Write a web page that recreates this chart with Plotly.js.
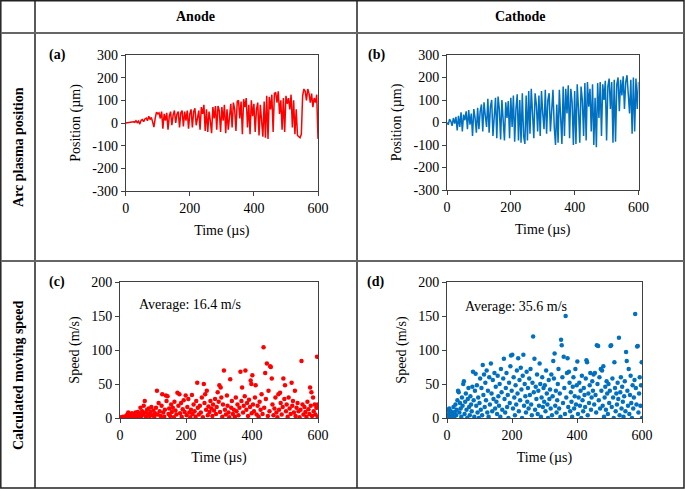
<!DOCTYPE html>
<html>
<head>
<meta charset="utf-8">
<script src="https://cdn.plot.ly/plotly-3.0.1.min.js"></script>
<style>
  html, body { margin: 0; padding: 0; background: #fff; }
  #plot1 { width: 685px; height: 489px; }
</style>
</head>
<body>
<div id="plot1"></div>
<script>
/////////////////////////////////////////////// data ///////////////////////////////////////////////////////
// arc position, sampled every 4 us
const posTime = [0,4,8,12,16,20,24,28,32,36,40,44,48,52,56,60,64,68,72,76,80,84,88,92,96,100,104,108,112,116,120,124,128,132,136,140,144,148,152,156,160,164,168,172,176,180,184,188,192,196,200,204,208,212,216,220,224,228,232,236,240,244,248,252,256,260,264,268,272,276,280,284,288,292,296,300,304,308,312,316,320,324,328,332,336,340,344,348,352,356,360,364,368,372,376,380,384,388,392,396,400,404,408,412,416,420,424,428,432,436,440,444,448,452,456,460,464,468,472,476,480,484,488,492,496,500,504,508,512,516,520,524,528,532,536,540,544,548,552,556,560,564,568,572,576,580,584,588,592,596,600];

const posAnode = [0,1,2,3,2,4,5,3, 10,2,8,-5,12,15,6,18, 22,10,30,15,25,5,-18,20, 48,40,45,20,50,-25,40,10,
  45,-30,30,50,-10,35,55,0, 40,50,-20,45,55,-15,50,10, 55,-25,40,60,-20,50,65,-10, 30,55,-30,70,40,80,-35,60,
  -40,50,10,-45,70,20,75,-30, 75,55,-40,70,10,80,-45,60, -30,40,85,-20,90,60,-35,95, 100,20,95,-50,105,70,110,-20,
  80,-50,100,30,85,-40,60,90, -55,80,20,-60,95,-65,120,-70, 115,60,125,-40,130,135,90,140, 40,100,-30,110,-40,120,85,110,
  60,125,-20,100,-50,60,-55,-60, -65,-50,120,150,140,100,150,130, 90,130,70,110,90,125,-70];

const posCathode = [0,-10,15,5,-15,20,-5,25, -35,30,-20,45,-40,35,10,50, -30,55,-10,40,-60,60,20,-45, 65,-30,50,80,-40,90,30,-20,
  105,-45,70,100,-60,40,110,-70, 115,60,-75,100,-20,-80,90,20, 95,-70,110,-20,120,-85,60,125, -80,100,-90,130,-60,-95,120,-80,
  140,-50,150,20,-70,130,80,-40, 120,-60,140,40,-30,145,-50,100, 130,-40,60,145,-20,-100,80,-90, 145,20,-95,160,-60,150,40,165,
  -70,150,90,-100,140,-95,170,60, -90,160,100,-60,175,-80,180,70, 150,-40,170,-100,110,-110,175,20, 180,-60,170,100,185,-80,160,195,
  60,180,-90,190,-85,170,200,50, 190,120,205,60,180,210,130,40, 190,-50,200,-40,195,60,180];

// moving speed
const speedTimeAnode = [3,6,9,12,15,18,20,22,25, 27,29,31,33,36,38,41,44,47,49, 52,54,57,60,62,65,67,70,72,75, 77,79,82,85,87,90,92,95,98,
  101,104,106,109,112,114,117,120,123, 126,128,131,134,136,139,141,144,147,149, 152,155,157,160,163,165,168,171,174,
  177,180,182,185,187,190,193,196,199, 202,204,207,210,213,215,218,220,223, 226,229,231,234,236,239,242,245,248,
  251,254,256,258,261,263,266,268,271,274, 277,280,282,285,288,291,293,296,299, 301,303,305,307,310,312,315,318,321,324,
  326,329,331,334,337,339,342,345,348, 351,353,356,359,362,365,368,370,373,375, 378,380,383,385,388,391,394,396,398,399,
  401,403,406,409,411,414,417,420,423, 426,429,432,435,437,440,442,445,448,450, 453,455,457,460,462,465,468,471,474,
  477,480,482,485,487,490,493,495,498,500, 503,505,508,511,514,517,520,522,524, 527,530,532,535,538,541,544,547,550,
  553,556,559,562,565,568,571,574, 576,578,580,582,585,587,590,592,595,597,599,600];
const speedAnode = [1,0,2,1,0,3,2,5,8, 3,6,1,4,7,2,5,3,8,1, 4,9,2,6,15,3,10,5,18,25, 8,2,12,6,14,3,9,16,4,
  11,2,7,15,40,5,22,10,3, 18,35,8,2,12,33,25,32,6,14, 3,20,9,15,1,24,11,5,37,
  18,35,7,22,2,13,26,9,33, 4,16,28,8,1,12,34,6,20, 10,2,25,52,15,5,18,8,30,
  1,50,22,35,12,40,4,17,9,25, 14,3,20,11,28,6,16,38,24, 48,9,45,30,2,20,70,12,5,33,
  18,8,1,57,15,25,6,12,2, 30,10,20,4,15,68,25,45,8,18, 32,70,12,22,3,27,16,55,50,7,
  63,20,10,30,48,5,18,2,24, 12,35,6,104,15,66,28,80,3,40, 10,76,75,58,20,4,14,30,8,
  1,35,12,37,22,5,16,58,28,48, 10,20,2,30,14,6,52,18,25, 8,40,3,15,22,10,1,12,84,
  20,5,16,9,2,24,13,6, 45,18,38,3,30,10,20,5,15,90,2,20];

const speedTimeCathode = [2,3,5,7,8,10,12,14,16,18,20,22,24, 26,28,30,32,34,36,38,40,42,44,46,48, 50,52,54,56,58,60,62,64,66,68,70,72,74,
  76,78,80,82,84,86,88,90,92,94,96,98, 100,102,104,106,108,110,112,114,116,118,120,122,124, 126,128,130,132,135,137,139,141,143,146,148,
  150,152,154,156,158,160,162,164,166,168,170,173, 175,177,179,181,183,185,187,189,191,193,195,197,199, 201,203,205,207,209,211,213,215,217,219,221,223,
  225,227,229,231,233,235,237,239,241,243,245,247,249, 251,253,255,257,259,261,263,265,267,269,271,273, 275,277,279,281,283,285,287,289,291,293,295,297,299,
  301,303,305,307,309,311,313,315,317,319,321,323, 325,327,329,331,333,335,337,339,341,343,345,347,349, 351,353,355,357,359,361,363,365,367,369,371,373,
  375,377,379,381,383,385,387,389,391,393,395,397,399, 401,403,405,407,409,411,413,415,417,419,421,423, 425,427,429,431,433,435,437,439,441,443,445,447,449,
  451,453,455,457,459,461,463,465,467,469,471,473, 475,477,479,481,483,485,487,489,491,493,495,497,499, 501,503,505,507,509,511,513,515,517,519,521,523,
  525,527,529,531,533,535,537,539,541,543,545,547,549, 551,553,555,557,559,561,563,565,567,569,571,573, 575,577,579,581,583,585,587,589,591,593,595,597,599,600];
const speedCathode = [12,5,0,14,8,2,10,0,6,3,16,0,9, 20,4,12,26,40,38,8,22,14,2,30,18, 50,54,6,24,36,12,0,28,44,16,4,32,20,
  10,46,68,26,2,40,65,18,48,8,30,0, 22,58,12,44,4,78,34,64,16,52,26,70,8, 40,2,60,20,80,36,10,56,28,66,14,
  46,24,6,62,32,18,50,2,72,38,12,58, 87,28,8,44,66,16,34,0,52,22,76,92,40, 93,14,60,30,4,48,20,70,36,88,10,56,
  26,74,42,0,62,93,18,50,32,8,68,24,44, 14,58,34,72,20,4,52,120,38,87,12,46, 28,64,6,40,18,80,50,2,30,60,16,44,24,
  48,10,70,36,20,0,56,28,42,14,64,4, 32,84,58,95,18,40,8,26,50,72,14,36,2, 115,107,60,22,90,44,6,150,30,66,88,16,
  68,52,10,38,24,2,46,60,14,32,72,20,48, 83,6,30,52,18,40,0,62,26,10,44,34, 16,58,85,82,4,36,22,48,66,12,30,54,40,
  64,20,66,34,8,107,50,106,26,60,14,72, 40,70,18,76,2,30,46,12,54,36,6,50,22, 40,106,107,16,58,30,0,82,44,10,36,20,
  52,28,118,4,38,60,14,46,24,2,32,54,10, 97,84,40,18,72,6,34,62,22,0,48,14, 30,56,153,44,20,105,106,8,36,60,18,48,82,0];

const colHeaders = ['Anode', 'Cathode'];
const rowHeaders = ['Arc plasma position', 'Calculated moving speed'];
const panelTags = ['(a)', '(b)', '(c)', '(d)'];
const avgTexts = ['Average: 16.4 m/s', 'Average: 35.6 m/s'];
const posTickVals = [-300, -200, -100, 0, 100, 200, 300];
const posTickText = ['-300', '-200', '-100', '0', '100', '200', '300'];

/////////////////////////////////////////////// layout ///////////////////////////////////////////////////////
const W = 685, H = 489;
const px = v => v / W;
const py = v => 1 - v / H;
const serif = 'Liberation Serif, Times New Roman, serif';

function axisX(domain, anchor) {
  return {
    domain: domain, anchor: anchor, range: [0, 600], dtick: 200,
    showgrid: false, zeroline: false, showline: true, mirror: true,
    linecolor: '#404040', linewidth: 1, ticks: 'outside', ticklen: 4, tickcolor: '#404040',
    tickfont: { family: serif, size: 14, color: '#000' },
    title: { text: 'Time (µs)', font: { family: serif, size: 14, color: '#000' }, standoff: 10 },
  };
}
function axisY(domain, anchor, range, dtick, label) {
  return {
    domain: domain, anchor: anchor, range: range, dtick: dtick,
    showgrid: false, zeroline: false, showline: true, mirror: true,
    linecolor: '#404040', linewidth: 1, ticks: 'outside', ticklen: 4, tickcolor: '#404040',
    tickfont: { family: serif, size: 14, color: '#000' },
    title: { text: label, font: { family: serif, size: 14, color: '#000' }, standoff: 8 },
  };
}
function axisPos(domain, anchor) {
  let ax = axisY(domain, anchor, [-300, 300], 100, 'Position (µm)');
  ax.tickmode = 'array';
  ax.tickvals = posTickVals;
  ax.ticktext = posTickText;
  return ax;
}

const dataPlot = [
  { x: posTime, y: posAnode, xaxis: 'x', yaxis: 'y', type: 'scatter', mode: 'lines',
    line: { color: '#ff0000', width: 1.5 } },
  { x: posTime, y: posCathode, xaxis: 'x2', yaxis: 'y2', type: 'scatter', mode: 'lines',
    line: { color: '#0070c0', width: 1.5 } },
  { x: speedTimeAnode, y: speedAnode, xaxis: 'x3', yaxis: 'y3', type: 'scatter', mode: 'markers',
    marker: { color: '#ff0000', size: 4.5 } },
  { x: speedTimeCathode, y: speedCathode, xaxis: 'x4', yaxis: 'y4', type: 'scatter', mode: 'markers',
    marker: { color: '#0070c0', size: 4.5 } },
];

const lineK = { color: '#222', width: 1.5 };
const lineG = { color: '#666', width: 2 };
const shapes = [
  { type: 'rect', xref: 'paper', yref: 'paper', x0: px(0.8), x1: px(684), y0: py(0.8), y1: py(488), line: lineK },
  { type: 'line', xref: 'paper', yref: 'paper', x0: px(35), x1: px(35), y0: py(0.8), y1: py(488), line: lineK },
  { type: 'line', xref: 'paper', yref: 'paper', x0: px(357), x1: px(357), y0: py(0.8), y1: py(488), line: lineK },
  { type: 'line', xref: 'paper', yref: 'paper', x0: px(0.8), x1: px(684), y0: py(33), y1: py(33), line: lineG },
  { type: 'line', xref: 'paper', yref: 'paper', x0: px(0.8), x1: px(684), y0: py(261), y1: py(261), line: lineG },
];

const boldFont = { family: serif, size: 14, color: '#000', weight: 'bold' };
const annotations = [
  { text: '<b>' + colHeaders[0] + '</b>', x: px(196), y: py(17), font: boldFont },
  { text: '<b>' + colHeaders[1] + '</b>', x: px(520), y: py(17), font: boldFont },
  { text: '<b>' + rowHeaders[0] + '</b>', x: px(18), y: py(147), textangle: -90, font: boldFont },
  { text: '<b>' + rowHeaders[1] + '</b>', x: px(18), y: py(375), textangle: -90, font: boldFont },
  { text: '<b>' + panelTags[0] + '</b>', x: px(57), y: py(55), font: boldFont },
  { text: '<b>' + panelTags[1] + '</b>', x: px(376), y: py(55), font: boldFont },
  { text: '<b>' + panelTags[2] + '</b>', x: px(57), y: py(282), font: boldFont },
  { text: '<b>' + panelTags[3] + '</b>', x: px(375), y: py(282), font: boldFont },
  { text: avgTexts[0], x: px(137), y: py(304), xanchor: 'left', font: { family: serif, size: 14, color: '#000' } },
  { text: avgTexts[1], x: px(463), y: py(306), xanchor: 'left', font: { family: serif, size: 14, color: '#000' } },
].map(a => Object.assign({ xref: 'paper', yref: 'paper', showarrow: false, xanchor: 'center', yanchor: 'middle' }, a));

const layoutAll = {
  width: W, height: H,
  margin: { l: 0, r: 0, t: 0, b: 0 },
  paper_bgcolor: '#fff', plot_bgcolor: '#fff',
  showlegend: false,
  xaxis: axisX([px(125.7), px(318)], 'y'),
  yaxis: axisPos([py(191), py(55)], 'x'),
  xaxis2: axisX([px(447), px(638.5)], 'y2'),
  yaxis2: axisPos([py(190), py(55)], 'x2'),
  xaxis3: axisX([px(120), px(318)], 'y3'),
  yaxis3: axisY([py(418), py(282)], 'x3', [0, 200], 50, 'Speed (m/s)'),
  xaxis4: axisX([px(447), px(642)], 'y4'),
  yaxis4: axisY([py(418), py(282)], 'x4', [0, 200], 50, 'Speed (m/s)'),
  shapes: shapes,
  annotations: annotations,
};

Plotly.newPlot('plot1', dataPlot, layoutAll, { displayModeBar: false, staticPlot: true });
</script>
</body>
</html>
